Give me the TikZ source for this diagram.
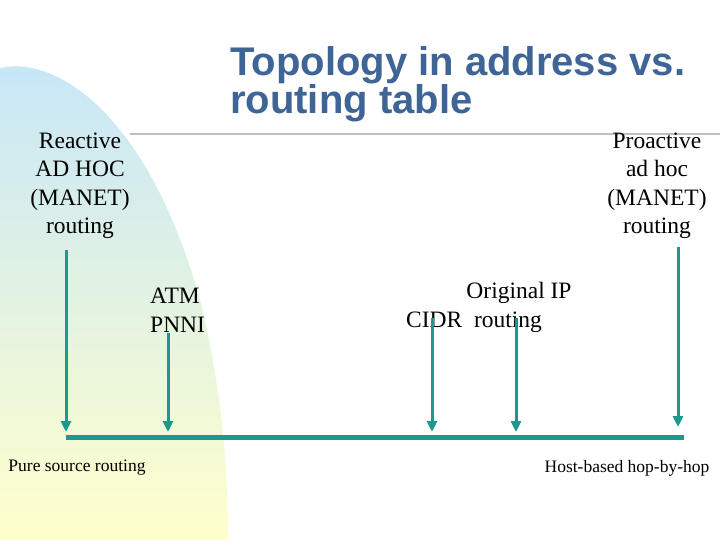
\documentclass[tikz,border=0pt]{standalone}
\usepackage{fontspec}
\setmainfont{Liberation Serif}
\newfontfamily\titlefont{Liberation Sans}
\usetikzlibrary{arrows.meta}
\definecolor{teal1}{HTML}{1A9A8C}
\definecolor{titleblue}{HTML}{3E6595}
\definecolor{bgblue}{HTML}{C6E6F8}
\definecolor{bgyellow}{HTML}{FFFFCC}
\begin{document}
\begin{tikzpicture}[x=1pt,y=-1pt,
  lbl/.style={font=\fontsize{23.5}{28.5}\selectfont,align=center,inner sep=0},
  small/.style={font=\fontsize{17.5}{20}\selectfont,inner sep=0},
  arr/.style={teal1,line width=3pt,-{Triangle[width=10pt,length=11pt]}}]
\useasboundingbox (0,0) rectangle (720,540);
\shade[top color=bgblue,bottom color=bgyellow]
  (0,540) -- (0,68) .. controls (60,55) and (150,120) .. (200,300) .. controls (220,380) and (228,460) .. (228,540) -- cycle;
\node[anchor=north west,align=left,text=titleblue,inner sep=0,
  font=\titlefont\bfseries\fontsize{40}{33}\selectfont] (title) at (230,46) {Topology in address vs.\\routing table};
\coordinate (gl) at (130,134); \coordinate (gr) at (720,134);
\draw[gray!50,line width=2pt] (gl) -- (gr);
\node[lbl] (react) at (80,186) {Reactive\\AD HOC\\(MANET)\\routing};
\node[lbl] (proact) at (657,186) {Proactive\\ad hoc\\(MANET)\\routing};
\node[lbl,align=left,anchor=west] (atm) at (150,310) {ATM\\PNNI};
\node[lbl,anchor=center] (ip) at (519,293) {Original IP};
\node[lbl,anchor=west] (cidr) at (406,322) {CIDR\ \ routing};
\node[small] (pure) at (77,468) {Pure source routing};
\node[small] (host) at (627,468) {Host-based hop-by-hop};
\coordinate (b1) at (66,250); \coordinate (e1) at (66,432);
\coordinate (b2) at (168,333); \coordinate (e2) at (168,432);
\coordinate (b3) at (432,318); \coordinate (e3) at (432,432);
\coordinate (b4) at (516,318); \coordinate (e4) at (516,432);
\coordinate (b5) at (678,247); \coordinate (e5) at (678,427);
\foreach \i in {1,...,5} \draw[arr] (b\i) -- (e\i);
\coordinate (hl) at (66,437); \coordinate (hr) at (684,437);
\draw[teal1,line width=5pt] (hl) -- (hr);
\end{tikzpicture}
\end{document}
